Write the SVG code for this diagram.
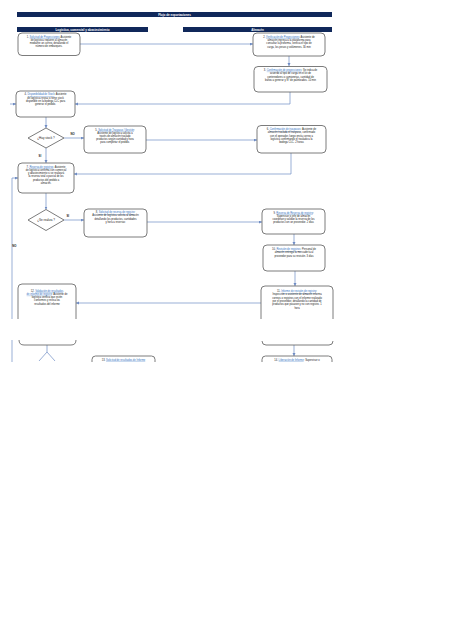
<svg xmlns="http://www.w3.org/2000/svg" width="474" height="632" viewBox="0 0 474 632">
<style>
.bg{fill:#ffffff}
.hdr{fill:#10285a}
.ht{font-family:"Liberation Sans",Arial,sans-serif;font-size:3px;font-weight:bold;fill:#ffffff;text-anchor:middle}
.box{fill:#ffffff;stroke:#5a5a5a;stroke-width:0.8}
.open{fill:none;stroke:#5a5a5a;stroke-width:0.8}
.t{font-family:"Liberation Sans",Arial,sans-serif;font-size:2.6px;fill:#1a1a1a;text-anchor:middle}
.lk{fill:#2f6fc0;text-decoration:underline}
.dt{font-family:"Liberation Sans",Arial,sans-serif;font-size:3px;fill:#1a1a1a;text-anchor:middle}
.lb{font-family:"Liberation Sans",Arial,sans-serif;font-size:2.8px;font-weight:bold;fill:#1a1a1a}
.c{fill:none;stroke:#6f8cc4;stroke-width:0.7}
.ca{fill:none;stroke:#6f8cc4;stroke-width:0.7;marker-end:url(#ah)}
</style>
<defs>
<marker id="ah" markerUnits="userSpaceOnUse" markerWidth="4" markerHeight="4" refX="3" refY="1.5" orient="auto">
<path d="M0,0 L3,1.5 L0,3 z" fill="#6f8cc4"/>
</marker>
<clipPath id="p2"><rect x="0" y="330" width="474" height="32"/></clipPath>
</defs>
<rect class="bg" x="0" y="0" width="474" height="632"/>

<g id="headers">
<rect class="hdr" x="17" y="12" width="315" height="5"/>
<text class="ht" x="174.5" y="15.6">Flujo de exportaciones</text>
<rect class="hdr" x="17" y="27" width="131" height="5"/>
<text class="ht" x="82.5" y="30.6">Logística, comercial y abastecimiento</text>
<rect class="hdr" x="183" y="27" width="149" height="5"/>
<text class="ht" x="257.5" y="30.6">Almacén</text>
</g>

<g id="connectors">
<path class="ca" d="M80,44 H253"/>
<path class="ca" d="M289,56 V66"/>
<path class="ca" d="M290,92 V104 H75"/>
<path class="ca" d="M10,104 H16"/>
<path class="ca" d="M46,117 V128"/>
<path class="ca" d="M64,138 H84"/>
<path class="ca" d="M146,140 H257"/>
<path class="ca" d="M291,153 V174 H74"/>
<path class="ca" d="M46,148 V163"/>
<path class="ca" d="M46,193 V209.5"/>
<path class="ca" d="M64,220 H84"/>
<path class="ca" d="M147,222 H262"/>
<path class="ca" d="M294,234 V245"/>
<path class="ca" d="M295,271 V286"/>
<path class="ca" d="M261,303 H76"/>
<path class="ca" d="M12,319 V178 H18"/>
<g clip-path="url(#p2)">
<path class="c" d="M12,340 V362"/>
<path class="c" d="M47,345 V352 M47,352 L39,361 M47,352 L55,361"/>
<path class="ca" d="M294,345 V356"/>
</g>
</g>
<text class="lb" x="70.5" y="134.8">NO</text>
<text class="lb" x="38.6" y="157">SI</text>
<text class="lb" x="66.5" y="216.5">SI</text>
<text class="lb" x="12.3" y="246.5">NO</text>

<g id="n1">
<rect class="box" x="18" y="33" width="62" height="22.5" rx="4"/>
<text class="t" x="49" y="37.5">1. <tspan class="lk">Solicitud de Proyecciones</tspan>: Asistente</text>
<text class="t" x="49" y="40.7">de logística requiere al almacén</text>
<text class="t" x="49" y="43.9">mediante un correo, detallando el</text>
<text class="t" x="49" y="47.1">número de embarques.</text>
</g>

<g id="n2">
<rect class="box" x="253" y="33" width="72" height="23" rx="4"/>
<text class="t" x="289" y="37.5">2. <tspan class="lk">Verificación de Proyecciones</tspan>: Asistente de</text>
<text class="t" x="289" y="40.9">almacén ingresa a la plataforma para</text>
<text class="t" x="289" y="44.3">consultar la proforma, verifica el tipo de</text>
<text class="t" x="289" y="47.7">carga, los pesos y volúmenes. 30 min</text>
</g>

<g id="n3">
<rect class="box" x="254" y="66.5" width="73" height="25.5" rx="4"/>
<text class="t" x="290.5" y="70.8">3. <tspan class="lk">Confirmación de proyecciones</tspan>: Se indica de</text>
<text class="t" x="290.5" y="74.2">acuerdo al tipo de carga en el kit de</text>
<text class="t" x="290.5" y="77.6">contenedores o camionetas, cantidad de</text>
<text class="t" x="290.5" y="81">bultos a generar y N° de paletizados. 10 min</text>
</g>

<g id="n4">
<rect class="box" x="16" y="91" width="59" height="26" rx="4"/>
<text class="t" x="45.5" y="95.3">4. <tspan class="lk">Disponibilidad de Stock</tspan>: Asistente</text>
<text class="t" x="45.5" y="98.6">de logística revisa si tiene stock</text>
<text class="t" x="45.5" y="101.9">disponible en la bodega CLC para</text>
<text class="t" x="45.5" y="105.2">generar el pedido.</text>
</g>

<g id="d1">
<polygon class="box" points="46,128 64,138 46,148 28,138"/>
<text class="dt" x="46" y="139">¿Hay stock ?</text>
</g>

<g id="n5">
<rect class="box" x="84" y="126" width="62" height="27" rx="4"/>
<text class="t" x="115" y="130.5">5. <tspan class="lk">Solicitud de Traspaso / Gestión</tspan>:</text>
<text class="t" x="115" y="133.7">Asistente de logística solicita a</text>
<text class="t" x="115" y="136.9">través de almacén traslado</text>
<text class="t" x="115" y="140.1">productos según cantidad y hora</text>
<text class="t" x="115" y="143.3">para completar el pedido.</text>
</g>

<g id="n6">
<rect class="box" x="257" y="125.5" width="69" height="27.5" rx="4"/>
<text class="t" x="291.5" y="130">6. <tspan class="lk">Confirmación de traspasos</tspan>: Asistente de</text>
<text class="t" x="291.5" y="133.3">almacén traslada el traspaso, confirmado</text>
<text class="t" x="291.5" y="136.6">con el operador, luego envía correo a</text>
<text class="t" x="291.5" y="139.9">logística confirmando el traslado a la</text>
<text class="t" x="291.5" y="143.2">bodega CLC. 2 horas</text>
</g>

<g id="n7">
<rect class="box" x="18" y="163" width="56" height="30" rx="4"/>
<text class="t" x="46" y="167.5">7. <tspan class="lk">Reserva de registros</tspan>: Asistente</text>
<text class="t" x="46" y="170.8">de logística confirma con comercial</text>
<text class="t" x="46" y="174.1">y abastecimiento si se realizará</text>
<text class="t" x="46" y="177.4">la reserva total o parcial de los</text>
<text class="t" x="46" y="180.7">productos del pedido a</text>
<text class="t" x="46" y="184">almacén.</text>
</g>

<g id="d2">
<polygon class="box" points="46,209.5 64,220 46,230.5 28,220"/>
<text class="dt" x="46" y="221">¿Se realiza ?</text>
</g>

<g id="n8">
<rect class="box" x="84" y="209" width="63" height="28" rx="4"/>
<text class="t" x="115.5" y="213">8. <tspan class="lk">Solicitud de reserva de registro</tspan>:</text>
<text class="t" x="115.5" y="216.3">Asistente de logística solicita al almacén</text>
<text class="t" x="115.5" y="219.6">detallando los productos, cantidades</text>
<text class="t" x="115.5" y="222.9">y hora a reservar.</text>
</g>

<g id="n9">
<rect class="box" x="262" y="209" width="63" height="25" rx="4"/>
<text class="t" x="293.5" y="213.5">9. <tspan class="lk">Reserva de Reserva de registro</tspan>:</text>
<text class="t" x="293.5" y="216.8">Supervisor o jefe de almacén</text>
<text class="t" x="293.5" y="220.1">coordinan y validan la reserva de los</text>
<text class="t" x="293.5" y="223.4">productos con un proveedor. 2 días</text>
</g>

<g id="n10">
<rect class="box" x="263" y="245" width="62" height="26" rx="4"/>
<text class="t" x="294" y="250">10. <tspan class="lk">Revisión de registros</tspan>: Personal de</text>
<text class="t" x="294" y="253.3">almacén entrega la mercadería al</text>
<text class="t" x="294" y="256.6">proveedor para su revisión. 3 días</text>
</g>

<g id="n11">
<path class="open" d="M261,319 V290 Q261,286 265,286 H329 Q333,286 333,290 V319"/>
<text class="t" x="297" y="292">11. <tspan class="lk">Informe de revisión de registro</tspan>:</text>
<text class="t" x="297" y="295.3">Inspección o asistente de almacén informa</text>
<text class="t" x="297" y="298.6">correos o registros con el informe realizado</text>
<text class="t" x="297" y="301.9">por el proveedor, detallando la cantidad de</text>
<text class="t" x="297" y="305.2">productos que pasaron y no con registro. 1</text>
<text class="t" x="297" y="308.5">hora</text>
<path class="open" d="M262,341 Q262,345 266,345 H329 Q333,345 333,341"/>
</g>

<g id="n12">
<path class="open" d="M18,319 V288 Q18,284 22,284 H72 Q76,284 76,288 V319"/>
<text class="t" x="47" y="291.5">12. <tspan class="lk">Validación de resultados</tspan></text>
<text class="t" x="47" y="294.8"><tspan class="lk">de informe de registro</tspan>: Asistente de</text>
<text class="t" x="47" y="298.1">logística verifica que estén</text>
<text class="t" x="47" y="301.4">conformes y revisa los</text>
<text class="t" x="47" y="304.7">resultados del informe</text>
<path class="open" d="M19,340 Q19,345 24,345 H71 Q76,345 76,340"/>
</g>

<g id="n13" clip-path="url(#p2)">
<path class="open" d="M92,364 V359.5 Q92,356 95.5,356 H151.5 Q155,356 155,359.5 V364"/>
<text class="t" x="123.5" y="360.6">13. <tspan class="lk">Solicitud de resultados de Informe</tspan></text>
</g>

<g id="n14" clip-path="url(#p2)">
<path class="open" d="M262,364 V359.5 Q262,356 265.5,356 H328.5 Q332,356 332,359.5 V364"/>
<text class="t" x="297" y="360.6">14. <tspan class="lk">Liberación de Informe</tspan>: Supervisor o</text>
</g>
</svg>
